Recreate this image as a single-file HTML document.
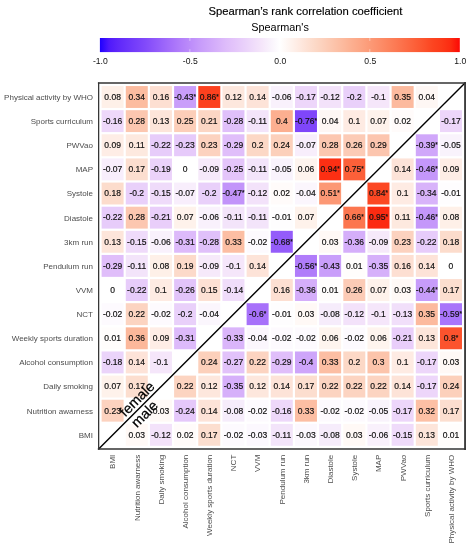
<!DOCTYPE html>
<html lang="en"><head><meta charset="utf-8"><title>Spearman's rank correlation coefficient</title>
<style>html,body{margin:0;padding:0;background:#fff;}svg{display:block;}text{font-family:"Liberation Sans",Arial,Helvetica,sans-serif;}
.c{font-size:8.5px;fill:#111;text-anchor:middle;stroke:#111;stroke-width:.18px;}.ay{font-size:8.0px;fill:#4d4d4d;text-anchor:end;}.ax{font-size:8.0px;fill:#4d4d4d;text-anchor:end;}.lg{font-size:8.6px;fill:#111;text-anchor:middle;}
</style></head><body>
<svg width="476" height="550" viewBox="0 0 476 550">
<rect width="476" height="550" fill="#fff"/>
<text x="305.4" y="14.7" text-anchor="middle" font-size="11" fill="#000" stroke="#000" stroke-width="0.15" textLength="194" lengthAdjust="spacingAndGlyphs">Spearman’s rank correlation coefficient</text>
<text x="280.1" y="31.2" text-anchor="middle" font-size="10.85" fill="#000">Spearman's</text>
<defs><linearGradient id="cb" x1="0" x2="1" y1="0" y2="0"><stop offset="0.0000" stop-color="#1e00ff"/><stop offset="0.0250" stop-color="#4f19fc"/><stop offset="0.0500" stop-color="#5f27fa"/><stop offset="0.0750" stop-color="#6a33fa"/><stop offset="0.1000" stop-color="#763efa"/><stop offset="0.1250" stop-color="#8149fa"/><stop offset="0.1500" stop-color="#8e56fa"/><stop offset="0.1750" stop-color="#9a64fa"/><stop offset="0.2000" stop-color="#a771fa"/><stop offset="0.2250" stop-color="#b27ffa"/><stop offset="0.2500" stop-color="#bc8cfa"/><stop offset="0.2750" stop-color="#c69afa"/><stop offset="0.3000" stop-color="#cea5fa"/><stop offset="0.3250" stop-color="#d6b0fa"/><stop offset="0.3500" stop-color="#debcfa"/><stop offset="0.3750" stop-color="#e4c5fa"/><stop offset="0.4000" stop-color="#e9d0fa"/><stop offset="0.4250" stop-color="#efdbfa"/><stop offset="0.4500" stop-color="#f5e6fa"/><stop offset="0.4750" stop-color="#f9f3fc"/><stop offset="0.5000" stop-color="#ffffff"/><stop offset="0.5250" stop-color="#fef5f1"/><stop offset="0.5500" stop-color="#feebe3"/><stop offset="0.5750" stop-color="#fde1d4"/><stop offset="0.6000" stop-color="#fcd8c6"/><stop offset="0.6250" stop-color="#fcceb9"/><stop offset="0.6500" stop-color="#fcc4ab"/><stop offset="0.6750" stop-color="#fcba9e"/><stop offset="0.7000" stop-color="#fcaf90"/><stop offset="0.7250" stop-color="#fca584"/><stop offset="0.7500" stop-color="#fc9a77"/><stop offset="0.7750" stop-color="#fc8f6b"/><stop offset="0.8000" stop-color="#fc845e"/><stop offset="0.8250" stop-color="#fc7852"/><stop offset="0.8500" stop-color="#fc6c46"/><stop offset="0.8750" stop-color="#fc6039"/><stop offset="0.9000" stop-color="#fc532d"/><stop offset="0.9250" stop-color="#fc4420"/><stop offset="0.9500" stop-color="#fc3a19"/><stop offset="0.9750" stop-color="#fc2b11"/><stop offset="1.0000" stop-color="#fc0805"/></linearGradient></defs>
<rect x="99.90" y="38.00" width="359.90" height="14.10" fill="url(#cb)"/>
<text class="lg" x="100.30" y="64.40">-1.0</text>
<path d="M189.88 38.00v2.9M189.88 52.10v-2.9" stroke="#fff" stroke-width="0.45" fill="none"/>
<text class="lg" x="190.28" y="64.40">-0.5</text>
<path d="M279.85 38.00v2.9M279.85 52.10v-2.9" stroke="#fff" stroke-width="0.45" fill="none"/>
<text class="lg" x="280.25" y="64.40">0.0</text>
<path d="M369.82 38.00v2.9M369.82 52.10v-2.9" stroke="#fff" stroke-width="0.45" fill="none"/>
<text class="lg" x="370.22" y="64.40">0.5</text>
<text class="lg" x="460.20" y="64.40">1.0</text>
<rect x="101.60" y="86.05" width="22.00" height="21.90" fill="#fef0e8"/>
<rect x="125.77" y="86.05" width="22.00" height="21.90" fill="#fcbca0"/>
<rect x="149.94" y="86.05" width="22.00" height="21.90" fill="#fddfd2"/>
<rect x="174.11" y="86.05" width="22.00" height="21.90" fill="#c99efa"/>
<rect x="198.28" y="86.05" width="22.00" height="21.90" fill="#fc411e"/>
<rect x="222.45" y="86.05" width="22.00" height="21.90" fill="#fde7dd"/>
<rect x="246.62" y="86.05" width="22.00" height="21.90" fill="#fde3d8"/>
<rect x="270.79" y="86.05" width="22.00" height="21.90" fill="#f9f1fc"/>
<rect x="294.96" y="86.05" width="22.00" height="21.90" fill="#edd6fa"/>
<rect x="319.13" y="86.05" width="22.00" height="21.90" fill="#f3e2fa"/>
<rect x="343.30" y="86.05" width="22.00" height="21.90" fill="#e9d0fa"/>
<rect x="367.47" y="86.05" width="22.00" height="21.90" fill="#f5e6fa"/>
<rect x="391.64" y="86.05" width="22.00" height="21.90" fill="#fcba9e"/>
<rect x="415.81" y="86.05" width="22.00" height="21.90" fill="#fef7f4"/>
<rect x="101.60" y="110.18" width="22.00" height="21.90" fill="#eed8fa"/>
<rect x="125.77" y="110.18" width="22.00" height="21.90" fill="#fcc7b0"/>
<rect x="149.94" y="110.18" width="22.00" height="21.90" fill="#fde5da"/>
<rect x="174.11" y="110.18" width="22.00" height="21.90" fill="#fcceb9"/>
<rect x="198.28" y="110.18" width="22.00" height="21.90" fill="#fcd6c4"/>
<rect x="222.45" y="110.18" width="22.00" height="21.90" fill="#e0c0fa"/>
<rect x="246.62" y="110.18" width="22.00" height="21.90" fill="#f3e4fa"/>
<rect x="270.79" y="110.18" width="22.00" height="21.90" fill="#fcaf90"/>
<rect x="294.96" y="110.18" width="22.00" height="21.90" fill="#7f46fa"/>
<rect x="319.13" y="110.18" width="22.00" height="21.90" fill="#fef7f4"/>
<rect x="343.30" y="110.18" width="22.00" height="21.90" fill="#feebe3"/>
<rect x="367.47" y="110.18" width="22.00" height="21.90" fill="#fef2eb"/>
<rect x="391.64" y="110.18" width="22.00" height="21.90" fill="#fffbfa"/>
<rect x="439.98" y="110.18" width="22.00" height="21.90" fill="#edd6fa"/>
<rect x="101.60" y="134.31" width="22.00" height="21.90" fill="#feede6"/>
<rect x="125.77" y="134.31" width="22.00" height="21.90" fill="#fde9df"/>
<rect x="149.94" y="134.31" width="22.00" height="21.90" fill="#e7ccfa"/>
<rect x="174.11" y="134.31" width="22.00" height="21.90" fill="#e6cafa"/>
<rect x="198.28" y="134.31" width="22.00" height="21.90" fill="#fcd2bf"/>
<rect x="222.45" y="134.31" width="22.00" height="21.90" fill="#e0befa"/>
<rect x="246.62" y="134.31" width="22.00" height="21.90" fill="#fcd8c6"/>
<rect x="270.79" y="134.31" width="22.00" height="21.90" fill="#fcd0bb"/>
<rect x="294.96" y="134.31" width="22.00" height="21.90" fill="#f8eefc"/>
<rect x="319.13" y="134.31" width="22.00" height="21.90" fill="#fcc7b0"/>
<rect x="343.30" y="134.31" width="22.00" height="21.90" fill="#fccbb6"/>
<rect x="367.47" y="134.31" width="22.00" height="21.90" fill="#fcc5ae"/>
<rect x="415.81" y="134.31" width="22.00" height="21.90" fill="#d0a7fa"/>
<rect x="439.98" y="134.31" width="22.00" height="21.90" fill="#f9f3fc"/>
<rect x="101.60" y="158.44" width="22.00" height="21.90" fill="#f8eefc"/>
<rect x="125.77" y="158.44" width="22.00" height="21.90" fill="#fcdecf"/>
<rect x="149.94" y="158.44" width="22.00" height="21.90" fill="#ebd2fa"/>
<rect x="174.11" y="158.44" width="22.00" height="21.90" fill="#ffffff"/>
<rect x="198.28" y="158.44" width="22.00" height="21.90" fill="#f6e9fa"/>
<rect x="222.45" y="158.44" width="22.00" height="21.90" fill="#e4c5fa"/>
<rect x="246.62" y="158.44" width="22.00" height="21.90" fill="#f3e4fa"/>
<rect x="270.79" y="158.44" width="22.00" height="21.90" fill="#f9f3fc"/>
<rect x="294.96" y="158.44" width="22.00" height="21.90" fill="#fef4ee"/>
<rect x="319.13" y="158.44" width="22.00" height="21.90" fill="#fc2f13"/>
<rect x="343.30" y="158.44" width="22.00" height="21.90" fill="#fc6039"/>
<rect x="391.64" y="158.44" width="22.00" height="21.90" fill="#fde3d8"/>
<rect x="415.81" y="158.44" width="22.00" height="21.90" fill="#c497fa"/>
<rect x="439.98" y="158.44" width="22.00" height="21.90" fill="#feede6"/>
<rect x="101.60" y="182.57" width="22.00" height="21.90" fill="#fcdccc"/>
<rect x="125.77" y="182.57" width="22.00" height="21.90" fill="#e9d0fa"/>
<rect x="149.94" y="182.57" width="22.00" height="21.90" fill="#efdbfa"/>
<rect x="174.11" y="182.57" width="22.00" height="21.90" fill="#f8eefc"/>
<rect x="198.28" y="182.57" width="22.00" height="21.90" fill="#e9d0fa"/>
<rect x="222.45" y="182.57" width="22.00" height="21.90" fill="#c294fa"/>
<rect x="246.62" y="182.57" width="22.00" height="21.90" fill="#f3e2fa"/>
<rect x="270.79" y="182.57" width="22.00" height="21.90" fill="#fffbfa"/>
<rect x="294.96" y="182.57" width="22.00" height="21.90" fill="#fbf6fd"/>
<rect x="319.13" y="182.57" width="22.00" height="21.90" fill="#fc9875"/>
<rect x="367.47" y="182.57" width="22.00" height="21.90" fill="#fc4723"/>
<rect x="391.64" y="182.57" width="22.00" height="21.90" fill="#feebe3"/>
<rect x="415.81" y="182.57" width="22.00" height="21.90" fill="#d8b3fa"/>
<rect x="439.98" y="182.57" width="22.00" height="21.90" fill="#fefdfe"/>
<rect x="101.60" y="206.70" width="22.00" height="21.90" fill="#e7ccfa"/>
<rect x="125.77" y="206.70" width="22.00" height="21.90" fill="#fcc7b0"/>
<rect x="149.94" y="206.70" width="22.00" height="21.90" fill="#e9cefa"/>
<rect x="174.11" y="206.70" width="22.00" height="21.90" fill="#fef2eb"/>
<rect x="198.28" y="206.70" width="22.00" height="21.90" fill="#f9f1fc"/>
<rect x="222.45" y="206.70" width="22.00" height="21.90" fill="#f3e4fa"/>
<rect x="246.62" y="206.70" width="22.00" height="21.90" fill="#f3e4fa"/>
<rect x="270.79" y="206.70" width="22.00" height="21.90" fill="#fefdfe"/>
<rect x="294.96" y="206.70" width="22.00" height="21.90" fill="#fef2eb"/>
<rect x="343.30" y="206.70" width="22.00" height="21.90" fill="#fc764f"/>
<rect x="367.47" y="206.70" width="22.00" height="21.90" fill="#fc2b11"/>
<rect x="391.64" y="206.70" width="22.00" height="21.90" fill="#fde9df"/>
<rect x="415.81" y="206.70" width="22.00" height="21.90" fill="#c497fa"/>
<rect x="439.98" y="206.70" width="22.00" height="21.90" fill="#fef0e8"/>
<rect x="101.60" y="230.83" width="22.00" height="21.90" fill="#fde5da"/>
<rect x="125.77" y="230.83" width="22.00" height="21.90" fill="#efdbfa"/>
<rect x="149.94" y="230.83" width="22.00" height="21.90" fill="#f9f1fc"/>
<rect x="174.11" y="230.83" width="22.00" height="21.90" fill="#ddbafa"/>
<rect x="198.28" y="230.83" width="22.00" height="21.90" fill="#e0c0fa"/>
<rect x="222.45" y="230.83" width="22.00" height="21.90" fill="#fcbea3"/>
<rect x="246.62" y="230.83" width="22.00" height="21.90" fill="#fdfafe"/>
<rect x="270.79" y="230.83" width="22.00" height="21.90" fill="#945cfa"/>
<rect x="319.13" y="230.83" width="22.00" height="21.90" fill="#fff9f6"/>
<rect x="343.30" y="230.83" width="22.00" height="21.90" fill="#d5aefa"/>
<rect x="367.47" y="230.83" width="22.00" height="21.90" fill="#f6e9fa"/>
<rect x="391.64" y="230.83" width="22.00" height="21.90" fill="#fcd2bf"/>
<rect x="415.81" y="230.83" width="22.00" height="21.90" fill="#e7ccfa"/>
<rect x="439.98" y="230.83" width="22.00" height="21.90" fill="#fcdccc"/>
<rect x="101.60" y="254.96" width="22.00" height="21.90" fill="#e0befa"/>
<rect x="125.77" y="254.96" width="22.00" height="21.90" fill="#f3e4fa"/>
<rect x="149.94" y="254.96" width="22.00" height="21.90" fill="#fef0e8"/>
<rect x="174.11" y="254.96" width="22.00" height="21.90" fill="#fcdaca"/>
<rect x="198.28" y="254.96" width="22.00" height="21.90" fill="#f6e9fa"/>
<rect x="222.45" y="254.96" width="22.00" height="21.90" fill="#f5e6fa"/>
<rect x="246.62" y="254.96" width="22.00" height="21.90" fill="#fde3d8"/>
<rect x="294.96" y="254.96" width="22.00" height="21.90" fill="#b07cfa"/>
<rect x="319.13" y="254.96" width="22.00" height="21.90" fill="#c99efa"/>
<rect x="343.30" y="254.96" width="22.00" height="21.90" fill="#fffdfc"/>
<rect x="367.47" y="254.96" width="22.00" height="21.90" fill="#d6b0fa"/>
<rect x="391.64" y="254.96" width="22.00" height="21.90" fill="#fddfd2"/>
<rect x="415.81" y="254.96" width="22.00" height="21.90" fill="#fde3d8"/>
<rect x="439.98" y="254.96" width="22.00" height="21.90" fill="#ffffff"/>
<rect x="101.60" y="279.09" width="22.00" height="21.90" fill="#ffffff"/>
<rect x="125.77" y="279.09" width="22.00" height="21.90" fill="#e7ccfa"/>
<rect x="149.94" y="279.09" width="22.00" height="21.90" fill="#feebe3"/>
<rect x="174.11" y="279.09" width="22.00" height="21.90" fill="#e2c4fa"/>
<rect x="198.28" y="279.09" width="22.00" height="21.90" fill="#fde1d4"/>
<rect x="222.45" y="279.09" width="22.00" height="21.90" fill="#f0ddfa"/>
<rect x="270.79" y="279.09" width="22.00" height="21.90" fill="#fddfd2"/>
<rect x="294.96" y="279.09" width="22.00" height="21.90" fill="#d5aefa"/>
<rect x="319.13" y="279.09" width="22.00" height="21.90" fill="#fffdfc"/>
<rect x="343.30" y="279.09" width="22.00" height="21.90" fill="#fccbb6"/>
<rect x="367.47" y="279.09" width="22.00" height="21.90" fill="#fef2eb"/>
<rect x="391.64" y="279.09" width="22.00" height="21.90" fill="#fff9f6"/>
<rect x="415.81" y="279.09" width="22.00" height="21.90" fill="#c79cfa"/>
<rect x="439.98" y="279.09" width="22.00" height="21.90" fill="#fcdecf"/>
<rect x="101.60" y="303.22" width="22.00" height="21.90" fill="#fdfafe"/>
<rect x="125.77" y="303.22" width="22.00" height="21.90" fill="#fcd4c1"/>
<rect x="149.94" y="303.22" width="22.00" height="21.90" fill="#fdfafe"/>
<rect x="174.11" y="303.22" width="22.00" height="21.90" fill="#e9d0fa"/>
<rect x="198.28" y="303.22" width="22.00" height="21.90" fill="#fbf6fd"/>
<rect x="246.62" y="303.22" width="22.00" height="21.90" fill="#a771fa"/>
<rect x="270.79" y="303.22" width="22.00" height="21.90" fill="#fefdfe"/>
<rect x="294.96" y="303.22" width="22.00" height="21.90" fill="#fff9f6"/>
<rect x="319.13" y="303.22" width="22.00" height="21.90" fill="#f6ecfb"/>
<rect x="343.30" y="303.22" width="22.00" height="21.90" fill="#f3e2fa"/>
<rect x="367.47" y="303.22" width="22.00" height="21.90" fill="#f5e6fa"/>
<rect x="391.64" y="303.22" width="22.00" height="21.90" fill="#f1dffa"/>
<rect x="415.81" y="303.22" width="22.00" height="21.90" fill="#fcba9e"/>
<rect x="439.98" y="303.22" width="22.00" height="21.90" fill="#a975fa"/>
<rect x="101.60" y="327.35" width="22.00" height="21.90" fill="#fffdfc"/>
<rect x="125.77" y="327.35" width="22.00" height="21.90" fill="#fcb89b"/>
<rect x="149.94" y="327.35" width="22.00" height="21.90" fill="#feede6"/>
<rect x="174.11" y="327.35" width="22.00" height="21.90" fill="#ddbafa"/>
<rect x="222.45" y="327.35" width="22.00" height="21.90" fill="#dab5fa"/>
<rect x="246.62" y="327.35" width="22.00" height="21.90" fill="#fbf6fd"/>
<rect x="270.79" y="327.35" width="22.00" height="21.90" fill="#fdfafe"/>
<rect x="294.96" y="327.35" width="22.00" height="21.90" fill="#fdfafe"/>
<rect x="319.13" y="327.35" width="22.00" height="21.90" fill="#fef4ee"/>
<rect x="343.30" y="327.35" width="22.00" height="21.90" fill="#fdfafe"/>
<rect x="367.47" y="327.35" width="22.00" height="21.90" fill="#fef4ee"/>
<rect x="391.64" y="327.35" width="22.00" height="21.90" fill="#e9cefa"/>
<rect x="415.81" y="327.35" width="22.00" height="21.90" fill="#fde5da"/>
<rect x="439.98" y="327.35" width="22.00" height="21.90" fill="#fc532d"/>
<rect x="101.60" y="351.48" width="22.00" height="21.90" fill="#ebd4fa"/>
<rect x="125.77" y="351.48" width="22.00" height="21.90" fill="#fde3d8"/>
<rect x="149.94" y="351.48" width="22.00" height="21.90" fill="#f5e6fa"/>
<rect x="198.28" y="351.48" width="22.00" height="21.90" fill="#fcd0bb"/>
<rect x="222.45" y="351.48" width="22.00" height="21.90" fill="#e2c2fa"/>
<rect x="246.62" y="351.48" width="22.00" height="21.90" fill="#fcd4c1"/>
<rect x="270.79" y="351.48" width="22.00" height="21.90" fill="#e0befa"/>
<rect x="294.96" y="351.48" width="22.00" height="21.90" fill="#cea5fa"/>
<rect x="319.13" y="351.48" width="22.00" height="21.90" fill="#fcbea3"/>
<rect x="343.30" y="351.48" width="22.00" height="21.90" fill="#fcd8c6"/>
<rect x="367.47" y="351.48" width="22.00" height="21.90" fill="#fcc4ab"/>
<rect x="391.64" y="351.48" width="22.00" height="21.90" fill="#feebe3"/>
<rect x="415.81" y="351.48" width="22.00" height="21.90" fill="#edd6fa"/>
<rect x="439.98" y="351.48" width="22.00" height="21.90" fill="#fff9f6"/>
<rect x="101.60" y="375.61" width="22.00" height="21.90" fill="#fef2eb"/>
<rect x="125.77" y="375.61" width="22.00" height="21.90" fill="#fcdecf"/>
<rect x="174.11" y="375.61" width="22.00" height="21.90" fill="#fcd4c1"/>
<rect x="198.28" y="375.61" width="22.00" height="21.90" fill="#fde7dd"/>
<rect x="222.45" y="375.61" width="22.00" height="21.90" fill="#d6b0fa"/>
<rect x="246.62" y="375.61" width="22.00" height="21.90" fill="#fde7dd"/>
<rect x="270.79" y="375.61" width="22.00" height="21.90" fill="#fde3d8"/>
<rect x="294.96" y="375.61" width="22.00" height="21.90" fill="#fcdecf"/>
<rect x="319.13" y="375.61" width="22.00" height="21.90" fill="#fcd4c1"/>
<rect x="343.30" y="375.61" width="22.00" height="21.90" fill="#fcd4c1"/>
<rect x="367.47" y="375.61" width="22.00" height="21.90" fill="#fcd4c1"/>
<rect x="391.64" y="375.61" width="22.00" height="21.90" fill="#fde3d8"/>
<rect x="415.81" y="375.61" width="22.00" height="21.90" fill="#edd6fa"/>
<rect x="439.98" y="375.61" width="22.00" height="21.90" fill="#fcd0bb"/>
<rect x="101.60" y="399.74" width="22.00" height="21.90" fill="#fcd2bf"/>
<rect x="149.94" y="399.74" width="22.00" height="21.90" fill="#fff9f6"/>
<rect x="174.11" y="399.74" width="22.00" height="21.90" fill="#e5c8fa"/>
<rect x="198.28" y="399.74" width="22.00" height="21.90" fill="#fde3d8"/>
<rect x="222.45" y="399.74" width="22.00" height="21.90" fill="#f6ecfb"/>
<rect x="246.62" y="399.74" width="22.00" height="21.90" fill="#fdfafe"/>
<rect x="270.79" y="399.74" width="22.00" height="21.90" fill="#eed8fa"/>
<rect x="294.96" y="399.74" width="22.00" height="21.90" fill="#fcbea3"/>
<rect x="319.13" y="399.74" width="22.00" height="21.90" fill="#fdfafe"/>
<rect x="343.30" y="399.74" width="22.00" height="21.90" fill="#fdfafe"/>
<rect x="367.47" y="399.74" width="22.00" height="21.90" fill="#f9f3fc"/>
<rect x="391.64" y="399.74" width="22.00" height="21.90" fill="#edd6fa"/>
<rect x="415.81" y="399.74" width="22.00" height="21.90" fill="#fcc0a5"/>
<rect x="439.98" y="399.74" width="22.00" height="21.90" fill="#fcdecf"/>
<rect x="125.77" y="423.87" width="22.00" height="21.90" fill="#fff9f6"/>
<rect x="149.94" y="423.87" width="22.00" height="21.90" fill="#f3e2fa"/>
<rect x="174.11" y="423.87" width="22.00" height="21.90" fill="#fffbfa"/>
<rect x="198.28" y="423.87" width="22.00" height="21.90" fill="#fcdecf"/>
<rect x="222.45" y="423.87" width="22.00" height="21.90" fill="#fdfafe"/>
<rect x="246.62" y="423.87" width="22.00" height="21.90" fill="#fcf8fe"/>
<rect x="270.79" y="423.87" width="22.00" height="21.90" fill="#f3e4fa"/>
<rect x="294.96" y="423.87" width="22.00" height="21.90" fill="#fcf8fe"/>
<rect x="319.13" y="423.87" width="22.00" height="21.90" fill="#f6ecfb"/>
<rect x="343.30" y="423.87" width="22.00" height="21.90" fill="#fff9f6"/>
<rect x="367.47" y="423.87" width="22.00" height="21.90" fill="#f9f1fc"/>
<rect x="391.64" y="423.87" width="22.00" height="21.90" fill="#efdbfa"/>
<rect x="415.81" y="423.87" width="22.00" height="21.90" fill="#fde5da"/>
<rect x="439.98" y="423.87" width="22.00" height="21.90" fill="#fffdfc"/>
<g>
<text class="c" x="112.60" y="99.84">0.08</text>
<text class="c" x="136.77" y="99.84">0.34</text>
<text class="c" x="160.94" y="99.84">0.16</text>
<text class="c" x="185.11" y="99.84">-0.43<tspan font-size="6.4" dy="-1.0">*</tspan></text>
<text class="c" x="209.28" y="99.84">0.86<tspan font-size="6.4" dy="-1.0">*</tspan></text>
<text class="c" x="233.45" y="99.84">0.12</text>
<text class="c" x="257.62" y="99.84">0.14</text>
<text class="c" x="281.79" y="99.84">-0.06</text>
<text class="c" x="305.96" y="99.84">-0.17</text>
<text class="c" x="330.13" y="99.84">-0.12</text>
<text class="c" x="354.30" y="99.84">-0.2</text>
<text class="c" x="378.47" y="99.84">-0.1</text>
<text class="c" x="402.64" y="99.84">0.35</text>
<text class="c" x="426.81" y="99.84">0.04</text>
<text class="c" x="112.60" y="123.97">-0.16</text>
<text class="c" x="136.77" y="123.97">0.28</text>
<text class="c" x="160.94" y="123.97">0.13</text>
<text class="c" x="185.11" y="123.97">0.25</text>
<text class="c" x="209.28" y="123.97">0.21</text>
<text class="c" x="233.45" y="123.97">-0.28</text>
<text class="c" x="257.62" y="123.97">-0.11</text>
<text class="c" x="281.79" y="123.97">0.4</text>
<text class="c" x="305.96" y="123.97">-0.76<tspan font-size="6.4" dy="-1.0">*</tspan></text>
<text class="c" x="330.13" y="123.97">0.04</text>
<text class="c" x="354.30" y="123.97">0.1</text>
<text class="c" x="378.47" y="123.97">0.07</text>
<text class="c" x="402.64" y="123.97">0.02</text>
<text class="c" x="450.98" y="123.97">-0.17</text>
<text class="c" x="112.60" y="148.10">0.09</text>
<text class="c" x="136.77" y="148.10">0.11</text>
<text class="c" x="160.94" y="148.10">-0.22</text>
<text class="c" x="185.11" y="148.10">-0.23</text>
<text class="c" x="209.28" y="148.10">0.23</text>
<text class="c" x="233.45" y="148.10">-0.29</text>
<text class="c" x="257.62" y="148.10">0.2</text>
<text class="c" x="281.79" y="148.10">0.24</text>
<text class="c" x="305.96" y="148.10">-0.07</text>
<text class="c" x="330.13" y="148.10">0.28</text>
<text class="c" x="354.30" y="148.10">0.26</text>
<text class="c" x="378.47" y="148.10">0.29</text>
<text class="c" x="426.81" y="148.10">-0.39<tspan font-size="6.4" dy="-1.0">*</tspan></text>
<text class="c" x="450.98" y="148.10">-0.05</text>
<text class="c" x="112.60" y="172.23">-0.07</text>
<text class="c" x="136.77" y="172.23">0.17</text>
<text class="c" x="160.94" y="172.23">-0.19</text>
<text class="c" x="185.11" y="172.23">0</text>
<text class="c" x="209.28" y="172.23">-0.09</text>
<text class="c" x="233.45" y="172.23">-0.25</text>
<text class="c" x="257.62" y="172.23">-0.11</text>
<text class="c" x="281.79" y="172.23">-0.05</text>
<text class="c" x="305.96" y="172.23">0.06</text>
<text class="c" x="330.13" y="172.23">0.94<tspan font-size="6.4" dy="-1.0">*</tspan></text>
<text class="c" x="354.30" y="172.23">0.75<tspan font-size="6.4" dy="-1.0">*</tspan></text>
<text class="c" x="402.64" y="172.23">0.14</text>
<text class="c" x="426.81" y="172.23">-0.46<tspan font-size="6.4" dy="-1.0">*</tspan></text>
<text class="c" x="450.98" y="172.23">0.09</text>
<text class="c" x="112.60" y="196.36">0.18</text>
<text class="c" x="136.77" y="196.36">-0.2</text>
<text class="c" x="160.94" y="196.36">-0.15</text>
<text class="c" x="185.11" y="196.36">-0.07</text>
<text class="c" x="209.28" y="196.36">-0.2</text>
<text class="c" x="233.45" y="196.36">-0.47<tspan font-size="6.4" dy="-1.0">*</tspan></text>
<text class="c" x="257.62" y="196.36">-0.12</text>
<text class="c" x="281.79" y="196.36">0.02</text>
<text class="c" x="305.96" y="196.36">-0.04</text>
<text class="c" x="330.13" y="196.36">0.51<tspan font-size="6.4" dy="-1.0">*</tspan></text>
<text class="c" x="378.47" y="196.36">0.84<tspan font-size="6.4" dy="-1.0">*</tspan></text>
<text class="c" x="402.64" y="196.36">0.1</text>
<text class="c" x="426.81" y="196.36">-0.34</text>
<text class="c" x="450.98" y="196.36">-0.01</text>
<text class="c" x="112.60" y="220.49">-0.22</text>
<text class="c" x="136.77" y="220.49">0.28</text>
<text class="c" x="160.94" y="220.49">-0.21</text>
<text class="c" x="185.11" y="220.49">0.07</text>
<text class="c" x="209.28" y="220.49">-0.06</text>
<text class="c" x="233.45" y="220.49">-0.11</text>
<text class="c" x="257.62" y="220.49">-0.11</text>
<text class="c" x="281.79" y="220.49">-0.01</text>
<text class="c" x="305.96" y="220.49">0.07</text>
<text class="c" x="354.30" y="220.49">0.66<tspan font-size="6.4" dy="-1.0">*</tspan></text>
<text class="c" x="378.47" y="220.49">0.95<tspan font-size="6.4" dy="-1.0">*</tspan></text>
<text class="c" x="402.64" y="220.49">0.11</text>
<text class="c" x="426.81" y="220.49">-0.46<tspan font-size="6.4" dy="-1.0">*</tspan></text>
<text class="c" x="450.98" y="220.49">0.08</text>
<text class="c" x="112.60" y="244.62">0.13</text>
<text class="c" x="136.77" y="244.62">-0.15</text>
<text class="c" x="160.94" y="244.62">-0.06</text>
<text class="c" x="185.11" y="244.62">-0.31</text>
<text class="c" x="209.28" y="244.62">-0.28</text>
<text class="c" x="233.45" y="244.62">0.33</text>
<text class="c" x="257.62" y="244.62">-0.02</text>
<text class="c" x="281.79" y="244.62">-0.68<tspan font-size="6.4" dy="-1.0">*</tspan></text>
<text class="c" x="330.13" y="244.62">0.03</text>
<text class="c" x="354.30" y="244.62">-0.36</text>
<text class="c" x="378.47" y="244.62">-0.09</text>
<text class="c" x="402.64" y="244.62">0.23</text>
<text class="c" x="426.81" y="244.62">-0.22</text>
<text class="c" x="450.98" y="244.62">0.18</text>
<text class="c" x="112.60" y="268.75">-0.29</text>
<text class="c" x="136.77" y="268.75">-0.11</text>
<text class="c" x="160.94" y="268.75">0.08</text>
<text class="c" x="185.11" y="268.75">0.19</text>
<text class="c" x="209.28" y="268.75">-0.09</text>
<text class="c" x="233.45" y="268.75">-0.1</text>
<text class="c" x="257.62" y="268.75">0.14</text>
<text class="c" x="305.96" y="268.75">-0.56<tspan font-size="6.4" dy="-1.0">*</tspan></text>
<text class="c" x="330.13" y="268.75">-0.43</text>
<text class="c" x="354.30" y="268.75">0.01</text>
<text class="c" x="378.47" y="268.75">-0.35</text>
<text class="c" x="402.64" y="268.75">0.16</text>
<text class="c" x="426.81" y="268.75">0.14</text>
<text class="c" x="450.98" y="268.75">0</text>
<text class="c" x="112.60" y="292.88">0</text>
<text class="c" x="136.77" y="292.88">-0.22</text>
<text class="c" x="160.94" y="292.88">0.1</text>
<text class="c" x="185.11" y="292.88">-0.26</text>
<text class="c" x="209.28" y="292.88">0.15</text>
<text class="c" x="233.45" y="292.88">-0.14</text>
<text class="c" x="281.79" y="292.88">0.16</text>
<text class="c" x="305.96" y="292.88">-0.36</text>
<text class="c" x="330.13" y="292.88">0.01</text>
<text class="c" x="354.30" y="292.88">0.26</text>
<text class="c" x="378.47" y="292.88">0.07</text>
<text class="c" x="402.64" y="292.88">0.03</text>
<text class="c" x="426.81" y="292.88">-0.44<tspan font-size="6.4" dy="-1.0">*</tspan></text>
<text class="c" x="450.98" y="292.88">0.17</text>
<text class="c" x="112.60" y="317.01">-0.02</text>
<text class="c" x="136.77" y="317.01">0.22</text>
<text class="c" x="160.94" y="317.01">-0.02</text>
<text class="c" x="185.11" y="317.01">-0.2</text>
<text class="c" x="209.28" y="317.01">-0.04</text>
<text class="c" x="257.62" y="317.01">-0.6<tspan font-size="6.4" dy="-1.0">*</tspan></text>
<text class="c" x="281.79" y="317.01">-0.01</text>
<text class="c" x="305.96" y="317.01">0.03</text>
<text class="c" x="330.13" y="317.01">-0.08</text>
<text class="c" x="354.30" y="317.01">-0.12</text>
<text class="c" x="378.47" y="317.01">-0.1</text>
<text class="c" x="402.64" y="317.01">-0.13</text>
<text class="c" x="426.81" y="317.01">0.35</text>
<text class="c" x="450.98" y="317.01">-0.59<tspan font-size="6.4" dy="-1.0">*</tspan></text>
<text class="c" x="112.60" y="341.14">0.01</text>
<text class="c" x="136.77" y="341.14">0.36</text>
<text class="c" x="160.94" y="341.14">0.09</text>
<text class="c" x="185.11" y="341.14">-0.31</text>
<text class="c" x="233.45" y="341.14">-0.33</text>
<text class="c" x="257.62" y="341.14">-0.04</text>
<text class="c" x="281.79" y="341.14">-0.02</text>
<text class="c" x="305.96" y="341.14">-0.02</text>
<text class="c" x="330.13" y="341.14">0.06</text>
<text class="c" x="354.30" y="341.14">-0.02</text>
<text class="c" x="378.47" y="341.14">0.06</text>
<text class="c" x="402.64" y="341.14">-0.21</text>
<text class="c" x="426.81" y="341.14">0.13</text>
<text class="c" x="450.98" y="341.14">0.8<tspan font-size="6.4" dy="-1.0">*</tspan></text>
<text class="c" x="112.60" y="365.27">-0.18</text>
<text class="c" x="136.77" y="365.27">0.14</text>
<text class="c" x="160.94" y="365.27">-0.1</text>
<text class="c" x="209.28" y="365.27">0.24</text>
<text class="c" x="233.45" y="365.27">-0.27</text>
<text class="c" x="257.62" y="365.27">0.22</text>
<text class="c" x="281.79" y="365.27">-0.29</text>
<text class="c" x="305.96" y="365.27">-0.4</text>
<text class="c" x="330.13" y="365.27">0.33</text>
<text class="c" x="354.30" y="365.27">0.2</text>
<text class="c" x="378.47" y="365.27">0.3</text>
<text class="c" x="402.64" y="365.27">0.1</text>
<text class="c" x="426.81" y="365.27">-0.17</text>
<text class="c" x="450.98" y="365.27">0.03</text>
<text class="c" x="112.60" y="389.40">0.07</text>
<text class="c" x="136.77" y="389.40">0.17</text>
<text class="c" x="185.11" y="389.40">0.22</text>
<text class="c" x="209.28" y="389.40">0.12</text>
<text class="c" x="233.45" y="389.40">-0.35</text>
<text class="c" x="257.62" y="389.40">0.12</text>
<text class="c" x="281.79" y="389.40">0.14</text>
<text class="c" x="305.96" y="389.40">0.17</text>
<text class="c" x="330.13" y="389.40">0.22</text>
<text class="c" x="354.30" y="389.40">0.22</text>
<text class="c" x="378.47" y="389.40">0.22</text>
<text class="c" x="402.64" y="389.40">0.14</text>
<text class="c" x="426.81" y="389.40">-0.17</text>
<text class="c" x="450.98" y="389.40">0.24</text>
<text class="c" x="112.60" y="413.53">0.23</text>
<text class="c" x="160.94" y="413.53">0.03</text>
<text class="c" x="185.11" y="413.53">-0.24</text>
<text class="c" x="209.28" y="413.53">0.14</text>
<text class="c" x="233.45" y="413.53">-0.08</text>
<text class="c" x="257.62" y="413.53">-0.02</text>
<text class="c" x="281.79" y="413.53">-0.16</text>
<text class="c" x="305.96" y="413.53">0.33</text>
<text class="c" x="330.13" y="413.53">-0.02</text>
<text class="c" x="354.30" y="413.53">-0.02</text>
<text class="c" x="378.47" y="413.53">-0.05</text>
<text class="c" x="402.64" y="413.53">-0.17</text>
<text class="c" x="426.81" y="413.53">0.32</text>
<text class="c" x="450.98" y="413.53">0.17</text>
<text class="c" x="136.77" y="437.66">0.03</text>
<text class="c" x="160.94" y="437.66">-0.12</text>
<text class="c" x="185.11" y="437.66">0.02</text>
<text class="c" x="209.28" y="437.66">0.17</text>
<text class="c" x="233.45" y="437.66">-0.02</text>
<text class="c" x="257.62" y="437.66">-0.03</text>
<text class="c" x="281.79" y="437.66">-0.11</text>
<text class="c" x="305.96" y="437.66">-0.03</text>
<text class="c" x="330.13" y="437.66">-0.08</text>
<text class="c" x="354.30" y="437.66">0.03</text>
<text class="c" x="378.47" y="437.66">-0.06</text>
<text class="c" x="402.64" y="437.66">-0.15</text>
<text class="c" x="426.81" y="437.66">0.13</text>
<text class="c" x="450.98" y="437.66">0.01</text>
</g>
<path d="M98.60 449.00L465.00 83.00" stroke="#000" stroke-width="1.4" fill="none"/>
<g stroke="#333" fill="none" stroke-linecap="square">
<path d="M98.65 83.00V449.00" stroke-width="1.25"/>
<path d="M465.05 83.00V449.00" stroke-width="1.8"/>
<path d="M98.65 83.00H465.05" stroke-width="1.5"/>
<path d="M98.65 449.00H465.05" stroke-width="1.7"/>
</g>
<text transform="translate(137.0,399.0) rotate(-45)" x="0" y="4.8" text-anchor="middle" font-size="14.2" fill="#000" stroke="#000" stroke-width="0.25">female</text>
<text transform="translate(144.5,414.0) rotate(-45)" x="0" y="4.8" text-anchor="middle" font-size="14.2" fill="#000" stroke="#000" stroke-width="0.25">male</text>
<text class="ay" x="93" y="99.86">Physical activity by WHO</text>
<text class="ay" x="93" y="123.99">Sports curriculum</text>
<text class="ay" x="93" y="148.12">PWVao</text>
<text class="ay" x="93" y="172.25">MAP</text>
<text class="ay" x="93" y="196.38">Systole</text>
<text class="ay" x="93" y="220.51">Diastole</text>
<text class="ay" x="93" y="244.64">3km run</text>
<text class="ay" x="93" y="268.77">Pendulum run</text>
<text class="ay" x="93" y="292.90">VVM</text>
<text class="ay" x="93" y="317.03">NCT</text>
<text class="ay" x="93" y="341.16">Weekly sports duration</text>
<text class="ay" x="93" y="365.29">Alcohol consumption</text>
<text class="ay" x="93" y="389.42">Daily smoking</text>
<text class="ay" x="93" y="413.55">Nutrition awarness</text>
<text class="ay" x="93" y="437.68">BMI</text>
<text class="ax" transform="translate(112.60,454.7) rotate(-90)" x="0" y="2.86">BMI</text>
<text class="ax" transform="translate(136.77,454.7) rotate(-90)" x="0" y="2.86">Nutrition awarness</text>
<text class="ax" transform="translate(160.94,454.7) rotate(-90)" x="0" y="2.86">Daily smoking</text>
<text class="ax" transform="translate(185.11,454.7) rotate(-90)" x="0" y="2.86">Alcohol consumption</text>
<text class="ax" transform="translate(209.28,454.7) rotate(-90)" x="0" y="2.86">Weekly sports duration</text>
<text class="ax" transform="translate(233.45,454.7) rotate(-90)" x="0" y="2.86">NCT</text>
<text class="ax" transform="translate(257.62,454.7) rotate(-90)" x="0" y="2.86">VVM</text>
<text class="ax" transform="translate(281.79,454.7) rotate(-90)" x="0" y="2.86">Pendulum run</text>
<text class="ax" transform="translate(305.96,454.7) rotate(-90)" x="0" y="2.86">3km run</text>
<text class="ax" transform="translate(330.13,454.7) rotate(-90)" x="0" y="2.86">Diastole</text>
<text class="ax" transform="translate(354.30,454.7) rotate(-90)" x="0" y="2.86">Systole</text>
<text class="ax" transform="translate(378.47,454.7) rotate(-90)" x="0" y="2.86">MAP</text>
<text class="ax" transform="translate(402.64,454.7) rotate(-90)" x="0" y="2.86">PWVao</text>
<text class="ax" transform="translate(426.81,454.7) rotate(-90)" x="0" y="2.86">Sports curriculum</text>
<text class="ax" transform="translate(450.98,454.7) rotate(-90)" x="0" y="2.86">Physical activity by WHO</text>
</svg></body></html>
